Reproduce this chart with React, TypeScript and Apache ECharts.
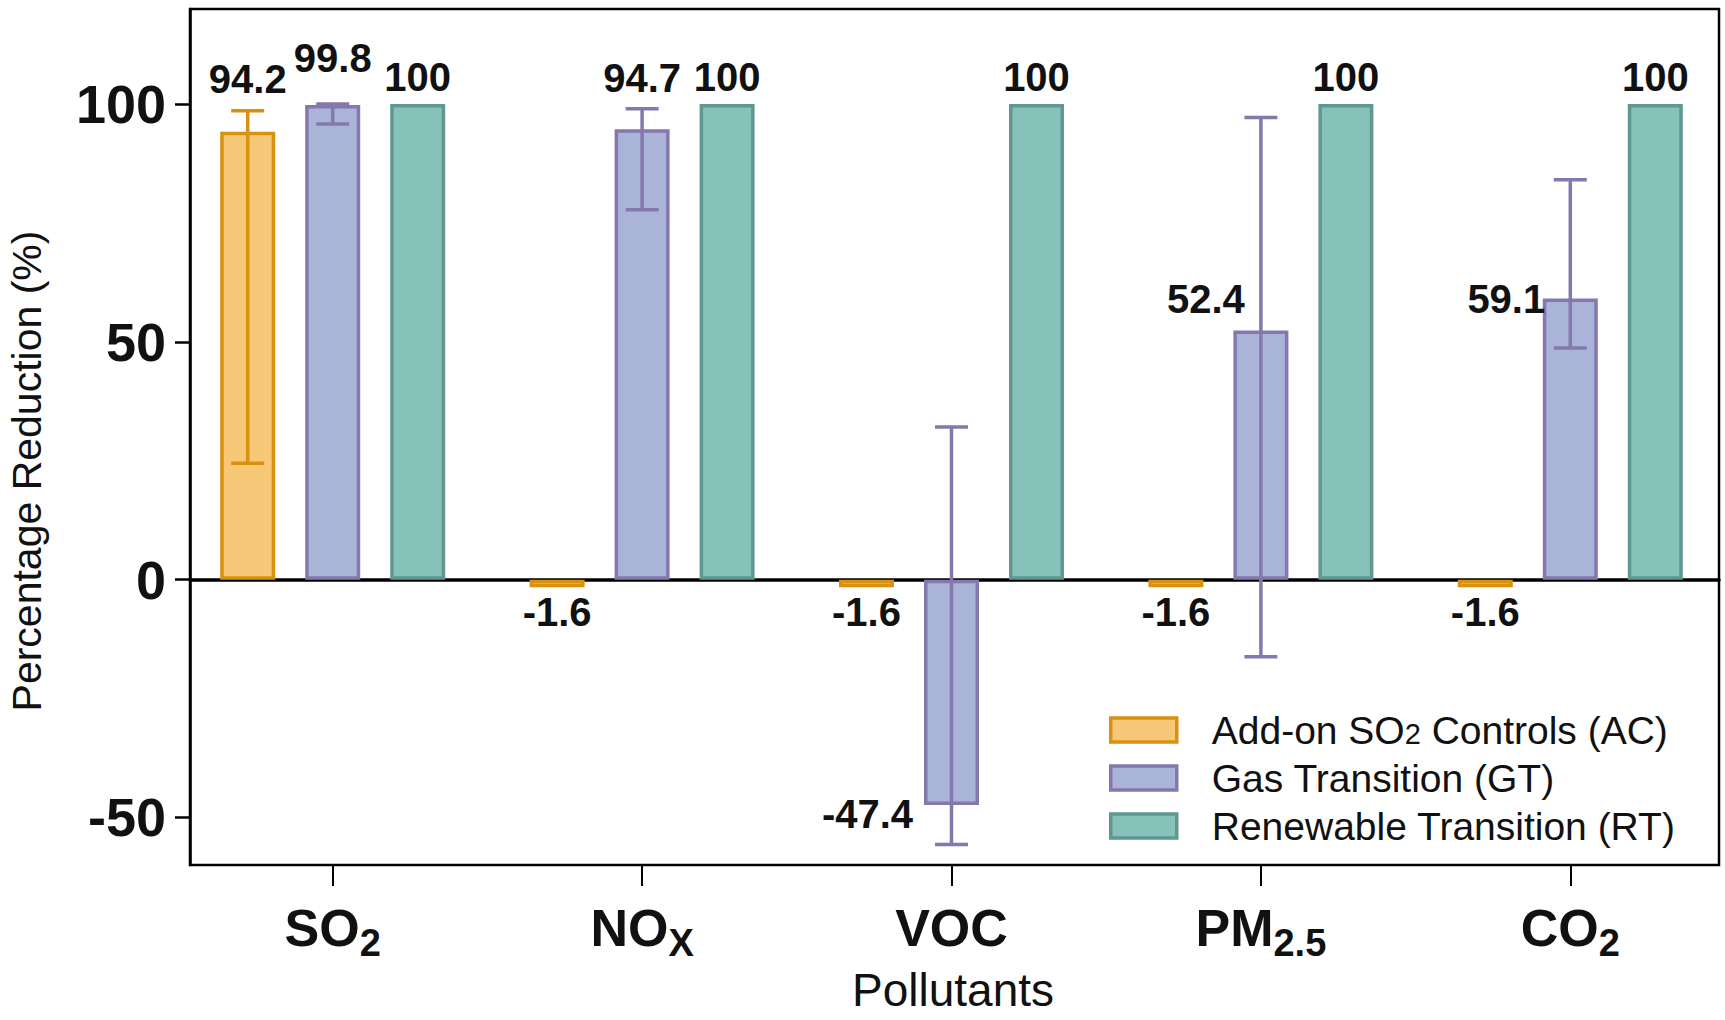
import React, { useEffect, useRef } from 'react';
import * as echarts from 'echarts';

const CATEGORIES = ['SO2', 'NOx', 'VOC', 'PM2.5', 'CO2'];
const CATEGORY_LABELS = ['{b|SO}{s|2}', '{b|NO}{s|X}', '{b|VOC}', '{b|PM}{s|2.5}', '{b|CO}{s|2}'];
const SERIES_NAMES = ['Add-on SO2 Controls (AC)', 'Gas Transition (GT)', 'Renewable Transition (RT)'];
const AC_VALUES = [94.2, -1.6, -1.6, -1.6, -1.6];
const GT_VALUES = [99.8, 94.7, -47.4, 52.4, 59.1];
const RT_VALUES = [100, 100, 100, 100, 100];
const AC_ERR_LOW = [24.5, null, null, null, null];
const AC_ERR_HIGH = [98.6, null, null, null, null];
const GT_ERR_LOW = [95.8, 77.8, -55.7, -16.2, 48.7];
const GT_ERR_HIGH = [100, 99.0, 32.1, 97.2, 84.1];
const Y_TICKS = [-50, 0, 50, 100];
const Y_MIN = -60;
const Y_MAX = 120;
const Y_TITLE = 'Percentage Reduction (%)';
const X_TITLE = 'Pollutants';

// styling
const FONT = '"Liberation Sans", Arial, Helvetica, sans-serif';
const BAR_WIDTH = 55;
const BAR_GAP_PX = 30;
const CAP_WIDTH = 33;
const FILLS = ['#F6C877', '#AAB3D8', '#86C1BA'];
const BORDERS = ['#D89210', '#8578AC', '#5F9791'];

// label placement per series / category: [position, dx, dy]
const LABEL_PLACE: Array<Array<[string, number, number]>> = [
  [['top', 0, -28], ['bottom', 0, 0], ['bottom', 0, 0], ['bottom', 0, 0], ['bottom', 0, 0]],
  [['top', 0, -22], ['top', 0, -26], ['bottom', -84, -16], ['top', -55, -6], ['top', -64, 25]],
  [['top', 0, -2], ['top', 0, -2], ['top', 0, -2], ['top', 0, -2], ['top', 0, -2]],
];

const GRID_TOP = 9;
const GRID_BOTTOM = 155;

function barData(values: number[], si: number) {
  return values.map((v, i) => {
    const [pos, dx, dy] = LABEL_PLACE[si][i];
    return { value: v, label: { position: pos, offset: [dx, dy] } };
  });
}

function errData(lo: (number | null)[], hi: (number | null)[]) {
  const out: number[][] = [];
  lo.forEach((l, i) => {
    const h = hi[i];
    if (l !== null && h !== null) out.push([i, l, h]);
  });
  return out;
}

function makeErrRender(slot: number, color: string) {
  return (params: any, api: any) => {
    const cat = api.value(0);
    const lo = api.value(1);
    const hi = api.value(2);
    const cx = api.coord([cat, 0])[0] + (slot - 1) * (BAR_WIDTH + BAR_GAP_PX);
    const yLo = api.coord([cat, lo])[1];
    const yHi = api.coord([cat, hi])[1];
    const half = CAP_WIDTH / 2;
    const style = { stroke: color, lineWidth: 3.5 };
    return {
      type: 'group',
      children: [
        { type: 'line', shape: { x1: cx, y1: yLo, x2: cx, y2: yHi }, style },
        { type: 'line', shape: { x1: cx - half, y1: yHi, x2: cx + half, y2: yHi }, style },
        { type: 'line', shape: { x1: cx - half, y1: yLo, x2: cx + half, y2: yLo }, style },
      ],
    };
  };
}

export default function App() {
  const ref = useRef<HTMLDivElement>(null);
  useEffect(() => {
    document.body.style.margin = '0';
    const chart = echarts.init(ref.current!, null, { renderer: 'svg' });
    const labelStyle = {
      show: true,
      fontFamily: FONT,
      fontSize: 40,
      fontWeight: 'bold',
      color: '#111',
      distance: 5,
    };
    const values = [AC_VALUES, GT_VALUES, RT_VALUES];
    const barSeries = values.map((vals, si) => ({
      type: 'bar',
      name: SERIES_NAMES[si],
      xAxisIndex: 1,
      yAxisIndex: 1,
      barWidth: BAR_WIDTH,
      barGap: `${(BAR_GAP_PX / BAR_WIDTH) * 100}%`,
      itemStyle: { color: FILLS[si], borderColor: BORDERS[si], borderWidth: 3.5 },
      label: labelStyle,
      data: barData(vals, si),
      z: 2,
    }));
    chart.setOption({
      animation: false,
      backgroundColor: '#fff',
      grid: [
        { left: 190, right: 6, top: GRID_TOP, bottom: GRID_BOTTOM, show: true, borderColor: '#000', borderWidth: 2.5, backgroundColor: 'transparent' },
        { left: 178, width: 1550, top: GRID_TOP, bottom: GRID_BOTTOM },
      ],
      xAxis: [
        {
          type: 'value', gridIndex: 0, min: 0, max: 1,
          axisLine: { show: true, onZero: true, lineStyle: { color: '#000', width: 3.5 } },
          axisTick: { show: false }, axisLabel: { show: false }, splitLine: { show: false },
        },
        {
          type: 'category', gridIndex: 1, data: CATEGORIES, position: 'bottom',
          axisLine: { show: false, onZero: false },
          axisTick: { show: true, alignWithLabel: true, length: 21, lineStyle: { color: '#000', width: 2 } },
          axisLabel: {
            margin: 29,
            formatter: (_v: string, idx: number) => CATEGORY_LABELS[idx],
            rich: {
              b: { fontFamily: FONT, fontSize: 52, fontWeight: 'bold', color: '#111', lineHeight: 68 },
              s: { fontFamily: FONT, fontSize: 38, fontWeight: 'bold', color: '#111', lineHeight: 38, padding: [30, 0, 0, 0] },
            },
          },
          splitLine: { show: false },
        },
      ],
      yAxis: [
        {
          type: 'value', gridIndex: 0, min: Y_MIN, max: Y_MAX,
          axisLine: { show: true, lineStyle: { color: '#000', width: 2.5 } },
          axisTick: { show: true, length: 15, lineStyle: { color: '#000', width: 2.5 }, customValues: Y_TICKS },
          axisLabel: {
            customValues: Y_TICKS, margin: 24, fontFamily: FONT, fontSize: 54, fontWeight: 'bold', color: '#111',
          },
          splitLine: { show: false },
        },
        { type: 'value', gridIndex: 1, min: Y_MIN, max: Y_MAX, show: false, splitLine: { show: false } },
      ],
      legend: {
        orient: 'vertical',
        left: 1109,
        top: 710,
        padding: 0,
        itemWidth: 66,
        itemHeight: 24,
        itemGap: 8,
        icon: 'rect',
        data: SERIES_NAMES.map((n, i) => ({
          name: n,
          itemStyle: { color: FILLS[i], borderColor: BORDERS[i], borderWidth: 3.5 },
        })),
        formatter: (name: string) => name.replace('SO2', 'SO{s|2}'),
        textStyle: {
          fontFamily: FONT, fontSize: 39, color: '#111', lineHeight: 40, padding: [0, 0, 0, 30],
          rich: { s: { fontFamily: FONT, fontSize: 29, color: '#111', padding: [7, 0, 0, 0] } },
        },
      },
      graphic: [
        {
          type: 'text', x: 27, y: 471, rotation: Math.PI / 2,
          style: { text: Y_TITLE, font: `41px ${FONT}`, fill: '#111', textAlign: 'center', textVerticalAlign: 'middle' },
        },
        {
          type: 'text', x: 953, y: 990,
          style: { text: X_TITLE, font: `46px ${FONT}`, fill: '#111', textAlign: 'center', textVerticalAlign: 'middle' },
        },
      ],
      series: [
        ...barSeries,
        {
          type: 'custom', name: 'AC error', xAxisIndex: 1, yAxisIndex: 1, z: 5,
          renderItem: makeErrRender(0, BORDERS[0]), data: errData(AC_ERR_LOW, AC_ERR_HIGH),
          encode: { x: 0, y: [1, 2] },
        },
        {
          type: 'custom', name: 'GT error', xAxisIndex: 1, yAxisIndex: 1, z: 5,
          renderItem: makeErrRender(1, BORDERS[1]), data: errData(GT_ERR_LOW, GT_ERR_HIGH),
          encode: { x: 0, y: [1, 2] },
        },
      ],
    });
    return () => chart.dispose();
  }, []);
  return <div ref={ref} style={{ width: 1725, height: 1020 }} />;
}
